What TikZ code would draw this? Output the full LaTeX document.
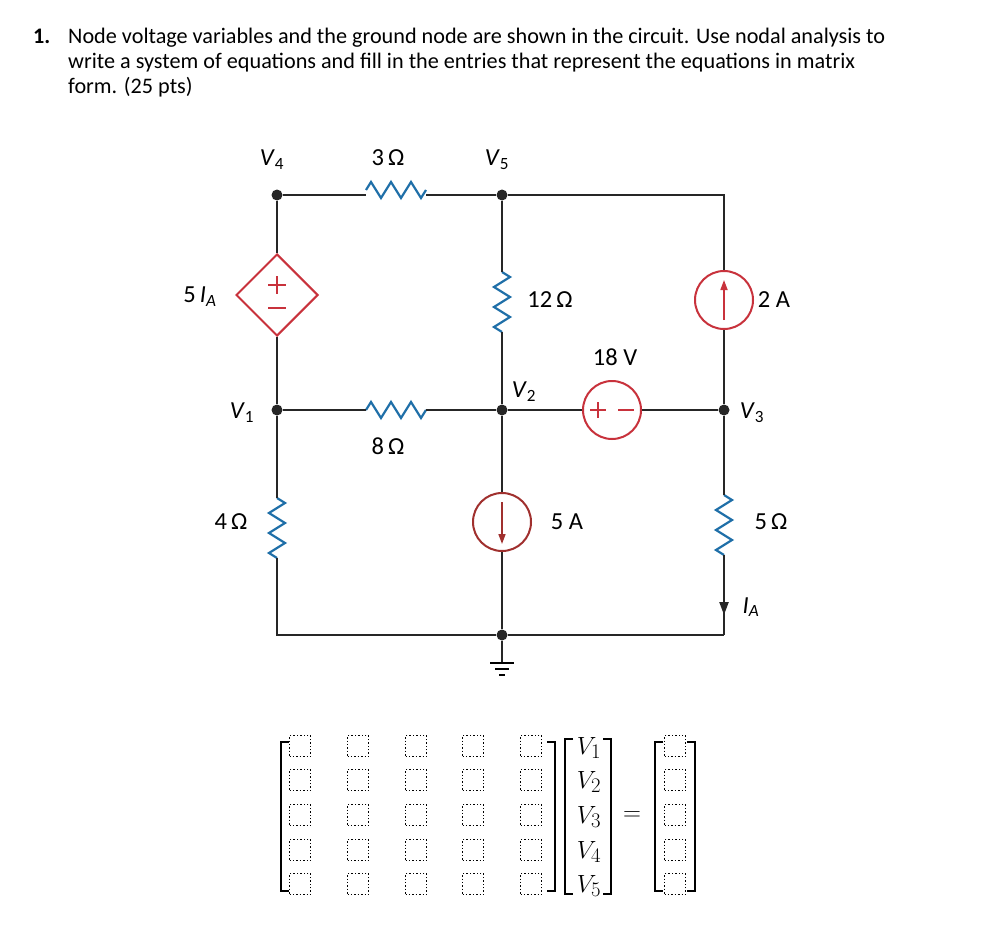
\documentclass[tikz,border=0pt]{standalone}
\usepackage{fontspec}
\setmainfont{Carlito}
\usetikzlibrary{decorations.pathmorphing,arrows.meta,shapes.geometric}
\definecolor{resblue}{HTML}{1F6FA8}
\definecolor{srcred}{HTML}{C8323C}
\definecolor{dred}{HTML}{A0302E}
\begin{document}
\begin{tikzpicture}[x=1pt,y=-1pt,
  wire/.style={line width=2.2pt,black!85},
  res/.style={line width=2.2pt,resblue,decorate,decoration={zigzag,segment length=20pt,amplitude=8pt}},
  dot/.style={circle,fill=black!85,inner sep=0pt,minimum size=11pt},
  lab/.style={font=\fontsize{24.5}{28}\selectfont,inner sep=0pt},
  src/.style={circle,draw=srcred,line width=2pt,minimum size=58pt,inner sep=0pt},
  dbox/.style={draw,dotted,line width=1.4pt,minimum size=21pt,inner sep=0pt},
  brk/.style={line width=1.5pt},
  txt/.style={anchor=base west,inner sep=0pt,font=\fontsize{22.2}{26}\selectfont}]
\useasboundingbox (0,0) rectangle (981,944);
% text
\node[txt] (n1) at (33,44) {\textbf{1.}};
\node[txt] (t1) at (68,44) {Node voltage variables and the ground node are shown in the circuit. Use nodal analysis to};
\node[txt] (t2) at (68,69) {write a system of equations and fill in the entries that represent the equations in matrix};
\node[txt] (t3) at (68,94) {form. (25 pts)};
% nodes
\node[dot] (v4) at (277,195) {};
\node[dot] (v5) at (502,195) {};
\coordinate (tr) at (724,195);
\node[dot] (v1) at (277,410) {};
\node[dot] (v2) at (502,410) {};
\node[dot] (v3) at (724,410) {};
\coordinate (bl) at (277,635);
\node[dot] (gn) at (502,635) {};
\coordinate (br) at (724,635);
% components
\node[diamond,draw=srcred,line width=2pt,minimum size=82pt,inner sep=0pt] (dep) at (277,295) {};
\draw[srcred,line width=1.6pt] (268,285)--(286,285) (277,276)--(277,294) (268,308)--(286,308);
\node[src] (s18) at (612,410) {};
\draw[srcred,line width=1.6pt] (590,410)--(606,410) (598,402)--(598,418) (618,410)--(634,410);
\node[src] (s2) at (724,300) {};
\draw[srcred,line width=1.6pt,-{Triangle[length=10pt,width=7pt]}] (724,320)--(724,280);
\node[src,draw=dred] (s5) at (502,522) {};
\draw[dred,line width=1.6pt,-{Triangle[length=10pt,width=7pt]}] (502,502)--(502,544);
\coordinate (r3a) at (366,190); \coordinate (r3b) at (426,190);
\coordinate (r8a) at (366,410); \coordinate (r8b) at (426,410);
\coordinate (r12a) at (502,272); \coordinate (r12b) at (502,332);
\coordinate (r4a) at (277,498); \coordinate (r4b) at (277,558);
\coordinate (r5a) at (724,495); \coordinate (r5b) at (724,555);
\draw[res] (r3a)--(r3b);
\draw[res] (r8a)--(r8b);
\draw[res] (r12a)--(r12b);
\draw[res] (r4a)--(r4b);
\draw[res] (r5a)--(r5b);
% wires
\draw[wire] (v4)--(366,195) (426,195)--(v5)--(tr)--(s2.north);
\draw[wire] (v4)--(dep.north) (dep.south)--(v1)--(r8a) (r8b)--(v2)--(s18.west) (s18.east)--(v3);
\draw[wire] (s2.south)--(v3)--(r5a);
\draw[wire] (v5)--(r12a) (r12b)--(v2)--(s5.north) (s5.south)--(gn);
\draw[wire] (v1)--(r4a) (r4b)--(bl)--(gn)--(br);
\draw[wire,-{Triangle[length=13pt,width=9pt]}] (r5b)--(724,615);
\draw[wire] (724,610)--(br);
\coordinate (g0) at (502,663);
\draw[wire] (gn)--(g0);
\draw[line width=2pt] (490,663)--(514,663) (495,669)--(509,669) (499,675)--(505,675);
% labels
\node[lab] (lv4) at (272,160) {\textit{V}\textsubscript{4}};
\node[lab] (l3) at (388,158) {3\,Ω};
\node[lab] (lv5) at (497,160) {\textit{V}\textsubscript{5}};
\node[lab] (ldep) at (200,297) {5\,\textit{I}\textsubscript{\textit{A}}};
\node[lab] (l12) at (550,300) {12\,Ω};
\node[lab] (l2a) at (774,300) {2 A};
\node[lab] (l18) at (615,357) {18 V};
\node[lab] (lv1) at (242,413) {\textit{V}\textsubscript{1}};
\node[lab] (lv2) at (524,392) {\textit{V}\textsubscript{2}};
\node[lab] (lv3) at (752,413) {\textit{V}\textsubscript{3}};
\node[lab] (l8) at (388,446) {8\,Ω};
\node[lab] (l4) at (231,522) {4\,Ω};
\node[lab] (l5a) at (567,522) {5 A};
\node[lab] (l5) at (771,522) {5\,Ω};
\node[lab] (lia) at (751,607) {\textit{I}\textsubscript{\textit{A}}};
% matrix
\foreach \c/\x in {1/300,2/358,3/416,4/473,5/531}{
  \foreach \r/\y in {1/746,2/780,3/815,4/850,5/884}{
    \node[dbox] (m\r\c) at (\x,\y) {};
  }}
\foreach \r/\y in {1/746,2/780,3/815,4/850,5/884}{
  \node[dbox] (b\r) at (675,\y) {};
  \node[inner sep=0pt,font=\fontsize{30}{32}\selectfont] (x\r) at (589,\y+2) {$V_{\r}$};
}
\node[inner sep=0pt,font=\fontsize{30}{32}\selectfont] (eq) at (632,816) {$=$};
\draw[brk] (289,742)--(281,742)--(281,891)--(289,891);
\draw[brk] (547,742)--(555,742)--(555,891)--(547,891);
\draw[brk] (573,739)--(565,739)--(565,894)--(573,894);
\draw[brk] (603,739)--(611,739)--(611,894)--(603,894);
\draw[brk] (663,742)--(655,742)--(655,891)--(663,891);
\draw[brk] (687,742)--(695,742)--(695,891)--(687,891);
\end{tikzpicture}
\end{document}
